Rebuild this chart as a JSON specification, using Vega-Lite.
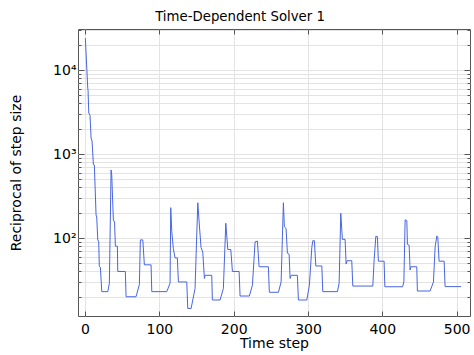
{
  "$schema": "https://vega.github.io/schema/vega-lite/v6.json",
  "width": 392,
  "height": 287,
  "autosize": {"type": "none"},
  "padding": {"left": 78, "top": 29, "right": 4, "bottom": 39},
  "title": {"text": "Time-Dependent Solver 1", "anchor": "middle", "frame": "bounds", "font": "DejaVu Sans", "fontSize": 13.3, "fontWeight": "normal", "offset": 0, "color": "black"},
  "config": {
    "view": {"stroke": "#555555", "strokeWidth": 1},
    "font": "DejaVu Sans",
    "axis": {
      "domain": false,
      "labelFont": "DejaVu Sans",
      "labelFontSize": 14,
      "labelColor": "black",
      "titleFont": "DejaVu Sans",
      "titleFontSize": 14,
      "titleFontWeight": "normal",
      "titleColor": "black",
      "tickColor": "#555555",
      "gridColor": "#e3e3e3",
      "gridWidth": 1,
      "labelOverlap": false
    }
  },
  "data": {"values": [
    {"step": 0.4, "recip": 24000},
    {"step": 3.6, "recip": 6100},
    {"step": 4.0, "recip": 5780},
    {"step": 5.0, "recip": 3080},
    {"step": 6.7, "recip": 2890},
    {"step": 8.1, "recip": 1550},
    {"step": 9.4, "recip": 1430},
    {"step": 11.2, "recip": 750},
    {"step": 12.5, "recip": 740},
    {"step": 14.8, "recip": 188},
    {"step": 15.7, "recip": 178},
    {"step": 17.1, "recip": 95},
    {"step": 18.4, "recip": 90},
    {"step": 19.2, "recip": 46},
    {"step": 20.6, "recip": 45},
    {"step": 22.5, "recip": 23},
    {"step": 30.6, "recip": 23},
    {"step": 32.7, "recip": 29},
    {"step": 35.0, "recip": 646},
    {"step": 35.9, "recip": 562},
    {"step": 38.1, "recip": 164},
    {"step": 39.7, "recip": 155},
    {"step": 40.8, "recip": 80},
    {"step": 43.5, "recip": 80},
    {"step": 44.0, "recip": 40},
    {"step": 54.2, "recip": 40},
    {"step": 55.2, "recip": 20},
    {"step": 68.6, "recip": 20},
    {"step": 73.1, "recip": 28},
    {"step": 74.4, "recip": 95},
    {"step": 77.7, "recip": 95},
    {"step": 79.8, "recip": 48},
    {"step": 88.8, "recip": 48},
    {"step": 89.8, "recip": 23},
    {"step": 110.0, "recip": 23},
    {"step": 114.4, "recip": 29},
    {"step": 115.3, "recip": 230},
    {"step": 116.7, "recip": 119},
    {"step": 118.8, "recip": 75},
    {"step": 121.1, "recip": 58},
    {"step": 124.2, "recip": 58},
    {"step": 125.6, "recip": 30},
    {"step": 136.9, "recip": 30},
    {"step": 138.2, "recip": 14.5},
    {"step": 142.7, "recip": 14.5},
    {"step": 148.0, "recip": 25},
    {"step": 151.7, "recip": 263},
    {"step": 153.8, "recip": 143},
    {"step": 156.1, "recip": 77},
    {"step": 158.4, "recip": 68},
    {"step": 160.6, "recip": 33},
    {"step": 161.5, "recip": 36},
    {"step": 170.5, "recip": 36},
    {"step": 171.3, "recip": 18.3},
    {"step": 181.7, "recip": 18.3},
    {"step": 186.1, "recip": 25},
    {"step": 189.4, "recip": 150},
    {"step": 192.1, "recip": 73},
    {"step": 196.1, "recip": 73},
    {"step": 198.3, "recip": 40},
    {"step": 207.3, "recip": 40},
    {"step": 208.6, "recip": 20.4},
    {"step": 221.1, "recip": 20.4},
    {"step": 225.2, "recip": 27.5},
    {"step": 228.8, "recip": 90},
    {"step": 231.9, "recip": 92},
    {"step": 234.2, "recip": 45.5},
    {"step": 246.7, "recip": 45.5},
    {"step": 248.0, "recip": 22.6},
    {"step": 260.2, "recip": 22.6},
    {"step": 263.8, "recip": 30},
    {"step": 266.9, "recip": 263},
    {"step": 268.2, "recip": 136},
    {"step": 270.5, "recip": 130},
    {"step": 272.3, "recip": 66},
    {"step": 274.6, "recip": 64},
    {"step": 275.9, "recip": 33},
    {"step": 277.3, "recip": 36},
    {"step": 285.7, "recip": 36},
    {"step": 287.1, "recip": 18.3},
    {"step": 298.4, "recip": 18.3},
    {"step": 301.9, "recip": 27.5},
    {"step": 305.1, "recip": 77},
    {"step": 306.5, "recip": 93},
    {"step": 308.6, "recip": 93},
    {"step": 310.5, "recip": 46.5},
    {"step": 318.6, "recip": 46.5},
    {"step": 319.9, "recip": 23},
    {"step": 339.6, "recip": 23},
    {"step": 341.9, "recip": 29},
    {"step": 344.1, "recip": 197},
    {"step": 346.3, "recip": 96.5},
    {"step": 349.9, "recip": 96.5},
    {"step": 351.3, "recip": 49},
    {"step": 352.6, "recip": 53.7},
    {"step": 358.9, "recip": 53.7},
    {"step": 360.3, "recip": 26.8},
    {"step": 387.2, "recip": 26.8},
    {"step": 389.0, "recip": 55},
    {"step": 391.3, "recip": 105},
    {"step": 393.4, "recip": 104},
    {"step": 394.7, "recip": 53},
    {"step": 402.4, "recip": 53},
    {"step": 403.4, "recip": 26.3},
    {"step": 427.3, "recip": 26.3},
    {"step": 429.0, "recip": 30},
    {"step": 430.7, "recip": 165},
    {"step": 433.0, "recip": 161},
    {"step": 433.8, "recip": 84},
    {"step": 436.1, "recip": 82},
    {"step": 437.4, "recip": 41.6},
    {"step": 438.4, "recip": 45.5},
    {"step": 446.4, "recip": 45.5},
    {"step": 447.2, "recip": 23.4},
    {"step": 464.3, "recip": 23.4},
    {"step": 468.8, "recip": 30},
    {"step": 471.1, "recip": 79},
    {"step": 473.4, "recip": 106},
    {"step": 474.7, "recip": 102},
    {"step": 476.4, "recip": 53},
    {"step": 483.2, "recip": 53},
    {"step": 484.5, "recip": 26.4},
    {"step": 506.0, "recip": 26.4}
  ]},
  "layer": [
    {
      "mark": {"type": "line", "color": "#4866e0", "strokeWidth": 1, "clip": true},
      "encoding": {
        "x": {
          "field": "step", "type": "quantitative",
          "scale": {"domain": [-9.5, 518], "nice": false, "zero": false},
          "axis": {"orient": "bottom", "title": "Time step", "values": [0, 100, 200, 300, 400, 500], "tickSize": -5, "labelPadding": 11, "titlePadding": 0, "grid": true}
        },
        "y": {
          "field": "recip", "type": "quantitative",
          "scale": {"type": "log", "domain": [11.8, 30800], "nice": false},
          "axis": {
            "orient": "left", "title": "Reciprocal of step size", "grid": true,
            "values": [20, 30, 40, 50, 60, 70, 80, 90, 100, 200, 300, 400, 500, 600, 700, 800, 900, 1000, 2000, 3000, 4000, 5000, 6000, 7000, 8000, 9000, 10000, 20000, 30000],
            "labelExpr": "datum.value == 100 ? '10²' : datum.value == 1000 ? '10³' : datum.value == 10000 ? '10⁴' : ''",
            "tickSize": {"condition": {"test": "datum.value == 100 || datum.value == 1000 || datum.value == 10000", "value": -6}, "value": -3},
            "labelPadding": 8, "titlePadding": 29
          }
        }
      }
    },
    {
      "mark": {"type": "line", "opacity": 0},
      "encoding": {
        "x": {
          "field": "step", "type": "quantitative",
          "scale": {"domain": [-9.5, 518], "nice": false, "zero": false},
          "axis": {"orient": "top", "title": null, "labels": false, "values": [0, 100, 200, 300, 400, 500], "tickSize": -5, "grid": false}
        },
        "y": {
          "field": "recip", "type": "quantitative",
          "scale": {"type": "log", "domain": [11.8, 30800], "nice": false},
          "axis": {
            "orient": "right", "title": null, "labels": false, "grid": false,
            "values": [20, 30, 40, 50, 60, 70, 80, 90, 100, 200, 300, 400, 500, 600, 700, 800, 900, 1000, 2000, 3000, 4000, 5000, 6000, 7000, 8000, 9000, 10000, 20000, 30000],
            "tickSize": {"condition": {"test": "datum.value == 100 || datum.value == 1000 || datum.value == 10000", "value": -6}, "value": -3}
          }
        }
      }
    }
  ],
  "resolve": {"axis": {"x": "independent", "y": "independent"}}
}
